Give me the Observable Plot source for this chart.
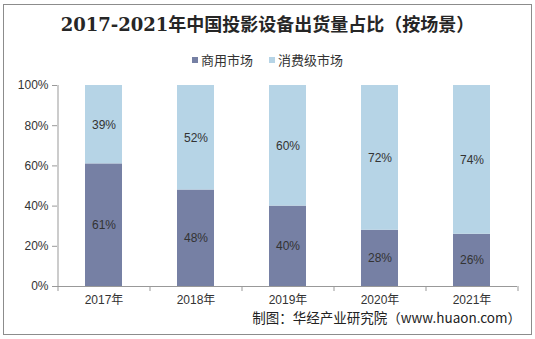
<!DOCTYPE html>
<html><head><meta charset="utf-8">
<script src="https://cdn.jsdelivr.net/npm/d3@7"></script>
<script src="https://cdn.jsdelivr.net/npm/@observablehq/plot@0.6"></script>
<style>
body{margin:0;background:#fff;}
#wrap{position:relative;width:535px;height:339px;overflow:hidden;font-family:"Liberation Sans",Arial,"Noto Sans CJK SC",sans-serif;}
#border{position:absolute;left:3px;top:4px;width:527px;height:329px;border:1px solid #8c8c8c;}
#title{position:absolute;left:0;width:535px;top:10px;text-align:center;font-family:"DejaVu Serif","Noto Sans CJK SC",serif;font-weight:bold;font-size:18px;color:#262626;}
#legend{position:absolute;left:0;width:535px;top:50px;text-align:center;font-size:13px;color:#333;font-family:"Noto Sans CJK SC",sans-serif;}
#legend span.sw{display:inline-block;width:6px;height:6px;margin-right:3px;vertical-align:2px;}
#legend span.item{margin:0 8px;}
#caption{position:absolute;right:14px;top:307px;font-size:13.5px;color:#222;font-family:"Noto Sans CJK SC",sans-serif;}
#chart{position:absolute;left:0;top:0;}
</style></head>
<body>
<div id="wrap">
<div id="chart"></div>
<div id="border"></div>
<div id="title">2017-2021年中国投影设备出货量占比（按场景）</div>
<div id="legend"></div>
<div id="caption">制图：华经产业研究院（www.huaon.com）</div>
</div>
<script>
const years = ["2017年","2018年","2019年","2020年","2021年"];
const seriesNames = ["商用市场","消费级市场"];
const commercial = [61,48,40,28,26];
const consumer = [39,52,60,72,74];
const colors = ["#7680a4","#b6d4e6"];
const yTicks = [0,20,40,60,80,100];

const data = [];
years.forEach((y,i)=>{ data.push({year:y, series:seriesNames[0], v:commercial[i]}); });
years.forEach((y,i)=>{ data.push({year:y, series:seriesNames[1], v:consumer[i]}); });

const leg = document.getElementById("legend");
seriesNames.forEach((s,i)=>{
  const it = document.createElement("span"); it.className="item";
  it.innerHTML = `<span class="sw" style="background:${colors[i]}"></span>${s}`;
  leg.appendChild(it);
});

const chart = Plot.plot({
  width:535, height:339,
  marginTop:85, marginBottom:53, marginLeft:57, marginRight:18,
  style:{fontFamily:'"Liberation Sans",Arial,"Noto Sans CJK SC",sans-serif', fontSize:"12px", color:"#333", background:"transparent"},
  x:{domain:years, paddingInner:0.6, paddingOuter:0.3, axis:null},
  y:{domain:[0,100], axis:null},
  color:{domain:seriesNames, range:colors},
  marks:[
    Plot.barY(data, Plot.stackY({x:"year", y:"v", fill:"series", order:null})),
    Plot.text(data, Plot.stackY({x:"year", y:"v", z:"series", order:null, text:d=>d.v+"%", fill:"#333", fontSize:12})),
    Plot.ruleY([0], {stroke:"#999"}),
    Plot.ruleX(years, {x:d=>d, y1:0, y2:-2.5, dx:-46, stroke:"#999"}),
    Plot.ruleX(years.slice(-1), {x:d=>d, y1:0, y2:-2.5, dx:46, stroke:"#999"}),
    Plot.ruleX(years.slice(0,1), {x:d=>d, y1:0, y2:100, dx:-46, stroke:"#999"}),
    Plot.axisY(yTicks, {label:null, tickSize:5, tickPadding:4, tickFormat:d=>d+"%", stroke:"#999", fill:"#333", fontSize:12}),
    Plot.text(years, {x:d=>d, y:0, dy:14, text:d=>d, fill:"#333", fontSize:12})
  ]
});
document.getElementById("chart").appendChild(chart);
</script>
</body></html>
